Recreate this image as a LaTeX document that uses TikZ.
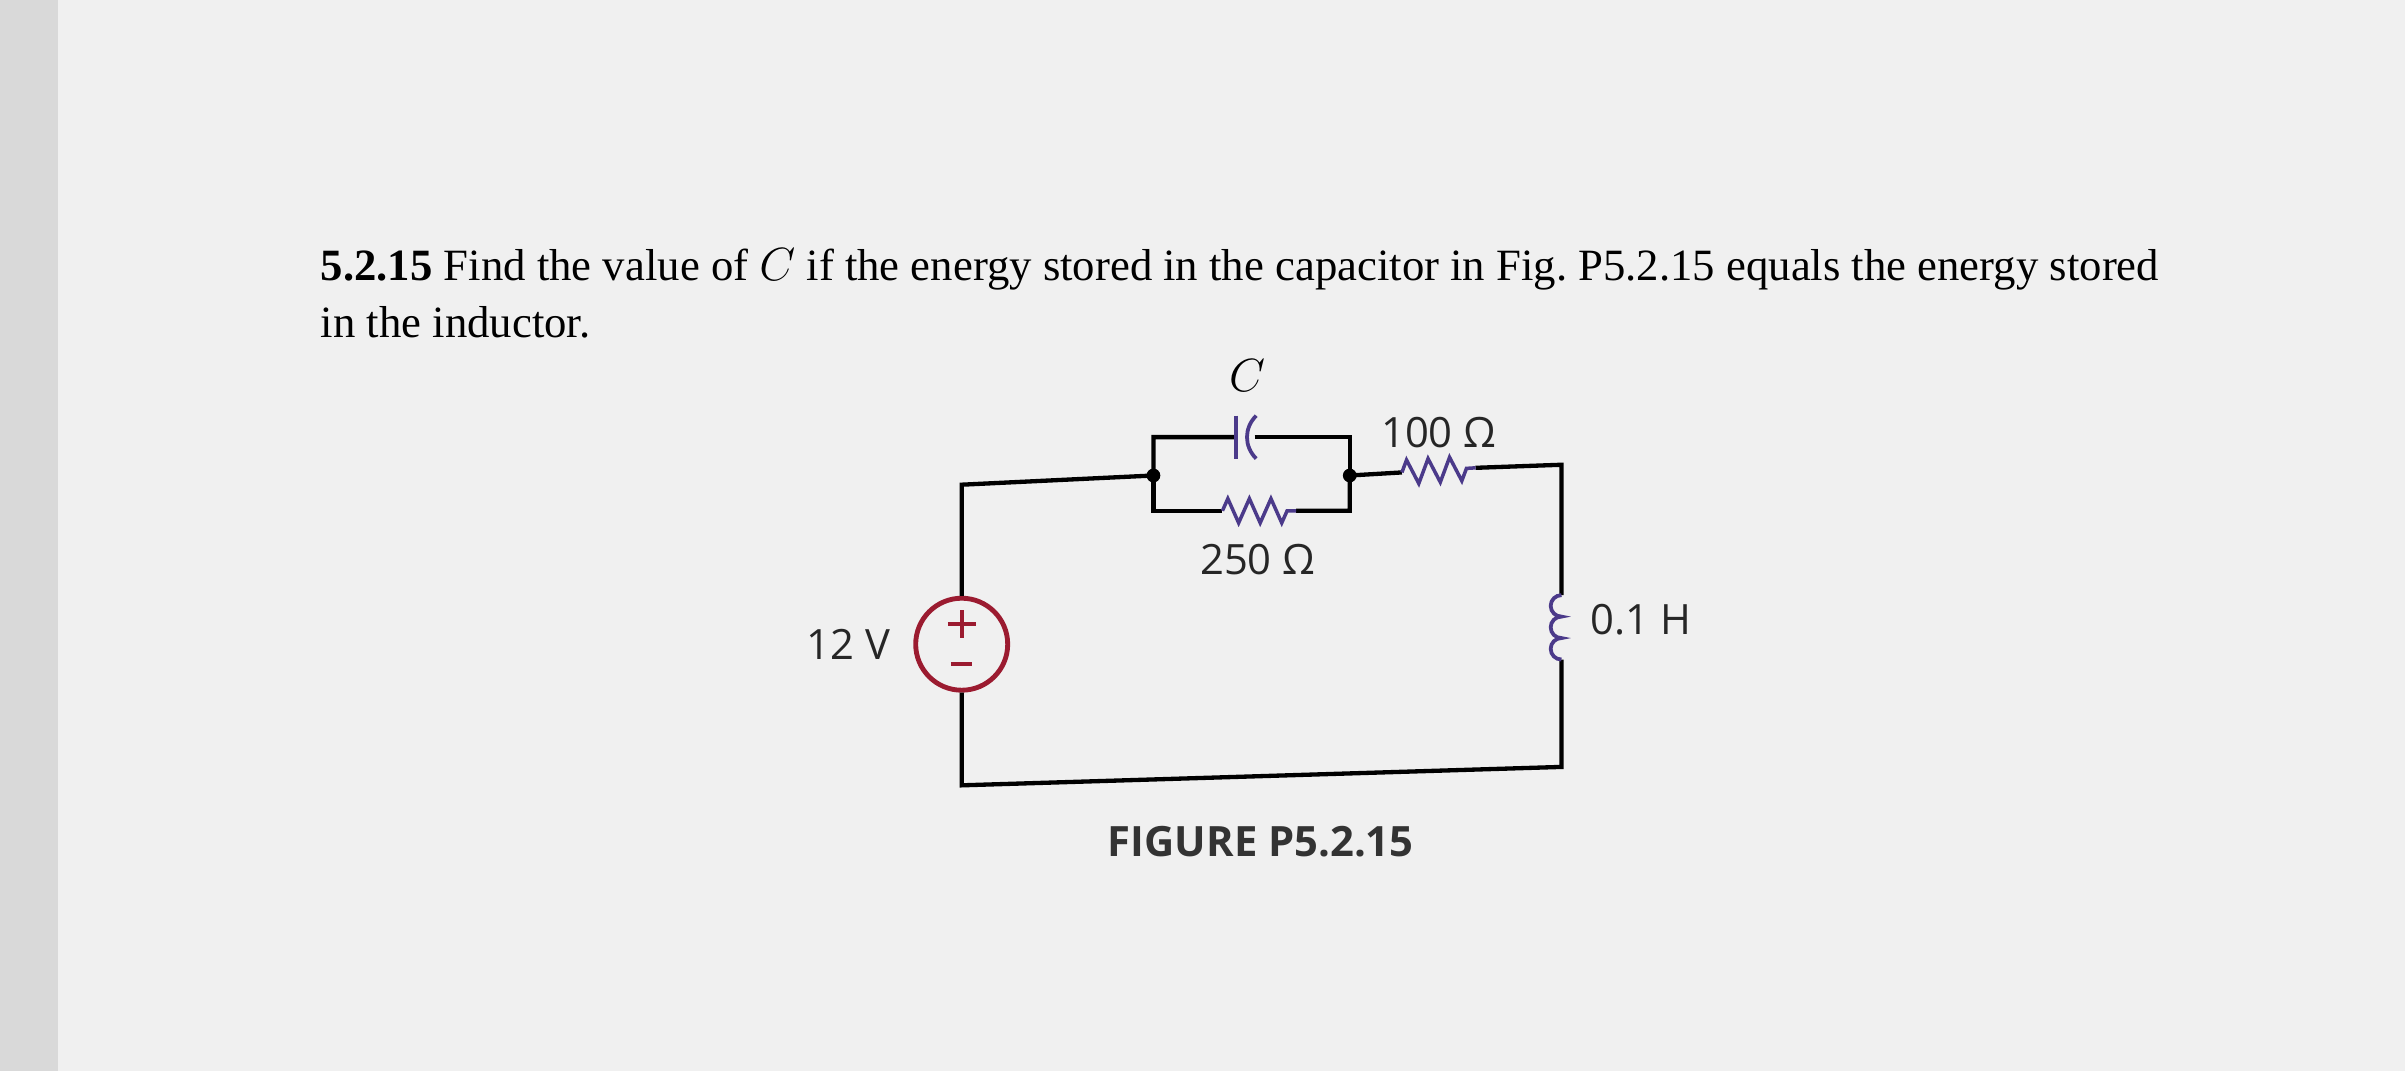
\documentclass[tikz,border=0pt]{standalone}
\usepackage{fontspec}
\setmainfont{Liberation Serif}
\newfontfamily\labfont{Open Sans}
\usetikzlibrary{decorations.pathmorphing}
\definecolor{srcred}{HTML}{9B1B30}
\definecolor{partpurple}{HTML}{4B3A8A}
\begin{document}
\begin{tikzpicture}[x=0.02cm, y=-0.02cm,
    wire/.style={draw=black, line width=1.6pt},
    res/.style={draw=partpurple, line width=1.3pt, decorate,
      decoration={zigzag, segment length=8pt, amplitude=4.5pt}},
    part/.style={draw=partpurple, line width=1.4pt},
    lab/.style={font=\labfont\fontsize{15.5}{17}\selectfont, text=black!85}]

    % background
    \fill[gray!12] (0,0) rectangle (1568,698);
    \fill[gray!30] (0,0) rectangle (38,698);
    \useasboundingbox (0,0) rectangle (1568,698);

    % problem text
    \node[anchor=base west, font=\fontsize{16.6}{20}\selectfont] (q1) at (203,183)
      {\textbf{5.2.15} Find the value of $C$ if the energy stored in the capacitor in Fig.\ P5.2.15 equals the energy stored};
    \node[anchor=base west, font=\fontsize{16.6}{20}\selectfont] (q2) at (203,220) {in the inductor.};

    % corners and junctions
    \coordinate (tl) at (627,316);
    \coordinate (bl) at (627,512);
    \coordinate (tr) at (1018,303);
    \coordinate (br) at (1018,500);
    \coordinate (jl) at (752,310);
    \coordinate (jr) at (880,310);
    \coordinate (ct) at (752,285);
    \coordinate (cr) at (880,285);
    \coordinate (c1) at (806,285);
    \coordinate (c2) at (818,285);
    \coordinate (rb) at (752,333);
    \coordinate (rbr) at (880,333);
    \coordinate (r1) at (797,333);
    \coordinate (r2) at (845,333);
    \coordinate (h1) at (914,308);
    \coordinate (h2) at (962,305);
    \coordinate (l1) at (1018,388);
    \coordinate (l2) at (1018,430);

    % source
    \node[circle, draw=srcred, line width=1.8pt, minimum size=1.2cm, inner sep=0pt] (src) at (627,420) {};
    \draw[srcred, line width=1.5pt] (618,407) -- (636,407) (627,398) -- (627,416);
    \draw[srcred, line width=1.5pt] (620,433) -- (634,433);

    % wires
    \draw[wire] (src.north) -- (tl) -- (jl) -- (ct) -- (c1);
    \draw[wire] (c2) -- (cr) -- (jr);
    \draw[wire] (jl) -- (rb) -- (r1);
    \draw[wire] (r2) -- (rbr) -- (jr) -- (h1);
    \draw[wire] (h2) -- (tr) -- (l1);
    \draw[wire] (l2) -- (br) -- (bl) -- (src.south);
    \fill (jl) circle[radius=4.5];
    \fill (jr) circle[radius=4.5];

    % capacitor
    \draw[part] (806,271) -- (806,299);
    \draw[part] (819,271) .. controls (811,279) and (811,291) .. (819,299);

    % resistors
    \draw[res] (r1) -- (r2);
    \draw[res] (h1) -- (h2);

    % inductor
    \draw[part] (l1) arc[start angle=-90, end angle=-270, radius=7]
      arc[start angle=-90, end angle=-270, radius=7]
      arc[start angle=-90, end angle=-270, radius=7];

    % labels
    \node[font=\fontsize{16}{16}\selectfont] (lc) at (813,245) {$C$};
    \node[lab] (l250) at (820,365) {250 Ω};
    \node[lab] (l100) at (938,282) {100 Ω};
    \node[lab] (lL) at (1070,404) {0.1 H};
    \node[lab] (lV) at (553,420) {12 V};
    \node[font=\labfont\bfseries\fontsize{15.5}{18}\selectfont, text=black!80] (fig) at (822,549) {FIGURE P5.2.15};
\end{tikzpicture}
\end{document}
